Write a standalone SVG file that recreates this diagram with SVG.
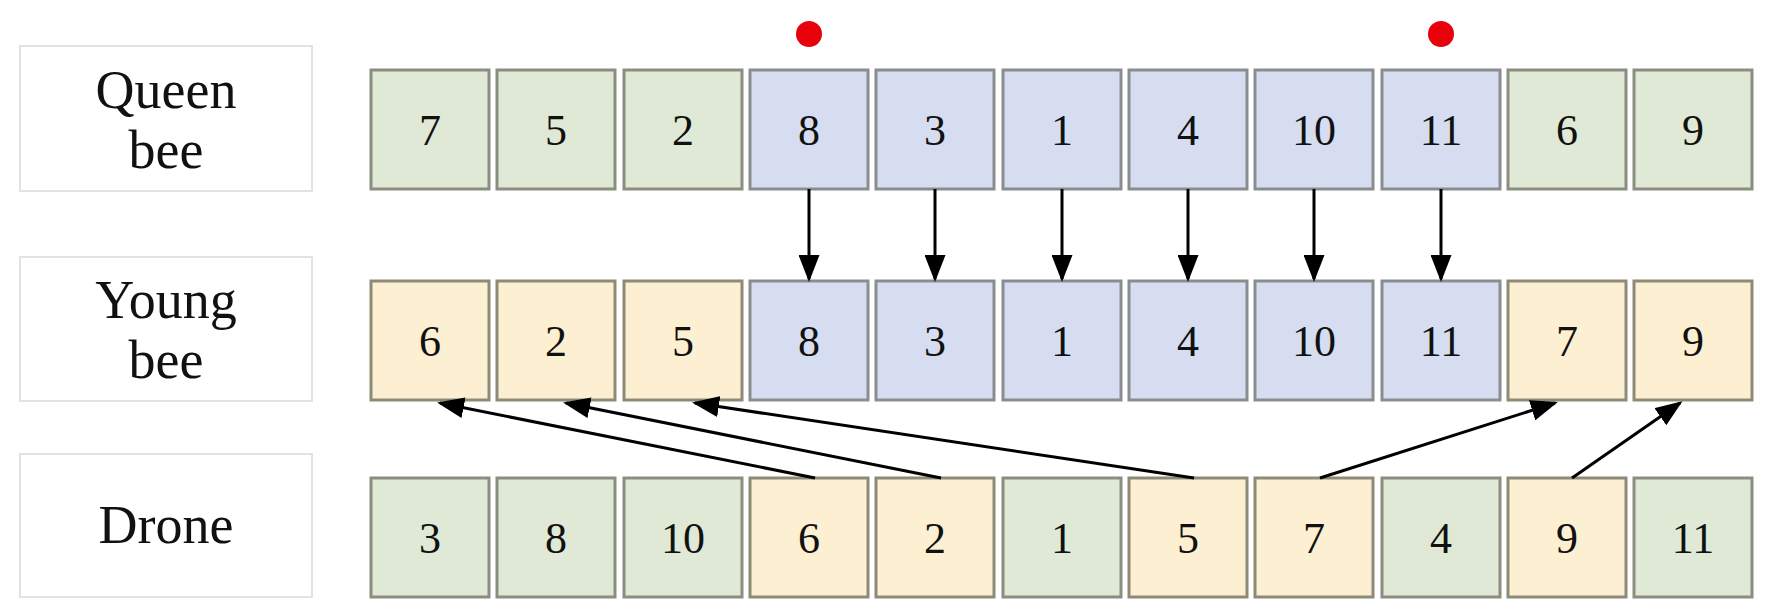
<svg xmlns="http://www.w3.org/2000/svg" width="1770" height="611" viewBox="0 0 1770 611">
<style>
.lab{fill:#fff;stroke:#e2e2e2;stroke-width:2}
.g{fill:#dfe9d5;stroke:#8a8d80;stroke-width:3}
.b{fill:#d6ddf0;stroke:#8a8d90;stroke-width:3}
.y{fill:#fdefd1;stroke:#8e8a78;stroke-width:3}
text{font-family:"Liberation Serif",serif;fill:#111;text-anchor:middle}
.n{font-size:44px}
.t{font-size:54px}
.c line{stroke:#000;stroke-width:3;marker-end:url(#ah)}
</style>
<defs><marker id="ah" markerWidth="9" markerHeight="7" refX="8" refY="3.5" orient="auto" markerUnits="strokeWidth"><path d="M0,0L9,3.5L0,7z" fill="#000"/></marker></defs>
<rect width="1770" height="611" fill="#fff"/>
<g id="label-queen"><rect class="lab" x="20" y="46" width="292" height="145"/><text class="t" x="166" y="108">Queen</text><text class="t" x="166" y="168">bee</text></g>
<g id="label-young"><rect class="lab" x="20" y="257" width="292" height="144"/><text class="t" x="166" y="318">Young</text><text class="t" x="166" y="378">bee</text></g>
<g id="label-drone"><rect class="lab" x="20" y="454" width="292" height="143"/><text class="t" x="166" y="543">Drone</text></g>
<g id="dots"><circle cx="809" cy="34" r="13" fill="#e8000b"/><circle cx="1441" cy="34" r="13" fill="#e8000b"/></g>
<g id="queen-row">
<g id="q0"><rect class="g" x="371" y="70" width="118" height="119"/><text class="n" x="430" y="145">7</text></g>
<g id="q1"><rect class="g" x="497" y="70" width="118" height="119"/><text class="n" x="556" y="145">5</text></g>
<g id="q2"><rect class="g" x="624" y="70" width="118" height="119"/><text class="n" x="683" y="145">2</text></g>
<g id="q3"><rect class="b" x="750" y="70" width="118" height="119"/><text class="n" x="809" y="145">8</text></g>
<g id="q4"><rect class="b" x="876" y="70" width="118" height="119"/><text class="n" x="935" y="145">3</text></g>
<g id="q5"><rect class="b" x="1003" y="70" width="118" height="119"/><text class="n" x="1062" y="145">1</text></g>
<g id="q6"><rect class="b" x="1129" y="70" width="118" height="119"/><text class="n" x="1188" y="145">4</text></g>
<g id="q7"><rect class="b" x="1255" y="70" width="118" height="119"/><text class="n" x="1314" y="145">10</text></g>
<g id="q8"><rect class="b" x="1382" y="70" width="118" height="119"/><text class="n" x="1441" y="145">11</text></g>
<g id="q9"><rect class="g" x="1508" y="70" width="118" height="119"/><text class="n" x="1567" y="145">6</text></g>
<g id="q10"><rect class="g" x="1634" y="70" width="118" height="119"/><text class="n" x="1693" y="145">9</text></g>
</g>
<g id="young-row">
<g id="y0"><rect class="y" x="371" y="281" width="118" height="119"/><text class="n" x="430" y="356">6</text></g>
<g id="y1"><rect class="y" x="497" y="281" width="118" height="119"/><text class="n" x="556" y="356">2</text></g>
<g id="y2"><rect class="y" x="624" y="281" width="118" height="119"/><text class="n" x="683" y="356">5</text></g>
<g id="y3"><rect class="b" x="750" y="281" width="118" height="119"/><text class="n" x="809" y="356">8</text></g>
<g id="y4"><rect class="b" x="876" y="281" width="118" height="119"/><text class="n" x="935" y="356">3</text></g>
<g id="y5"><rect class="b" x="1003" y="281" width="118" height="119"/><text class="n" x="1062" y="356">1</text></g>
<g id="y6"><rect class="b" x="1129" y="281" width="118" height="119"/><text class="n" x="1188" y="356">4</text></g>
<g id="y7"><rect class="b" x="1255" y="281" width="118" height="119"/><text class="n" x="1314" y="356">10</text></g>
<g id="y8"><rect class="b" x="1382" y="281" width="118" height="119"/><text class="n" x="1441" y="356">11</text></g>
<g id="y9"><rect class="y" x="1508" y="281" width="118" height="119"/><text class="n" x="1567" y="356">7</text></g>
<g id="y10"><rect class="y" x="1634" y="281" width="118" height="119"/><text class="n" x="1693" y="356">9</text></g>
</g>
<g id="drone-row">
<g id="d0"><rect class="g" x="371" y="478" width="118" height="119"/><text class="n" x="430" y="553">3</text></g>
<g id="d1"><rect class="g" x="497" y="478" width="118" height="119"/><text class="n" x="556" y="553">8</text></g>
<g id="d2"><rect class="g" x="624" y="478" width="118" height="119"/><text class="n" x="683" y="553">10</text></g>
<g id="d3"><rect class="y" x="750" y="478" width="118" height="119"/><text class="n" x="809" y="553">6</text></g>
<g id="d4"><rect class="y" x="876" y="478" width="118" height="119"/><text class="n" x="935" y="553">2</text></g>
<g id="d5"><rect class="g" x="1003" y="478" width="118" height="119"/><text class="n" x="1062" y="553">1</text></g>
<g id="d6"><rect class="y" x="1129" y="478" width="118" height="119"/><text class="n" x="1188" y="553">5</text></g>
<g id="d7"><rect class="y" x="1255" y="478" width="118" height="119"/><text class="n" x="1314" y="553">7</text></g>
<g id="d8"><rect class="g" x="1382" y="478" width="118" height="119"/><text class="n" x="1441" y="553">4</text></g>
<g id="d9"><rect class="y" x="1508" y="478" width="118" height="119"/><text class="n" x="1567" y="553">9</text></g>
<g id="d10"><rect class="g" x="1634" y="478" width="118" height="119"/><text class="n" x="1693" y="553">11</text></g>
</g>
<g id="connectors" class="c">
<line x1="809" y1="189" x2="809" y2="279"/>
<line x1="935" y1="189" x2="935" y2="279"/>
<line x1="1062" y1="189" x2="1062" y2="279"/>
<line x1="1188" y1="189" x2="1188" y2="279"/>
<line x1="1314" y1="189" x2="1314" y2="279"/>
<line x1="1441" y1="189" x2="1441" y2="279"/>
<line x1="815" y1="478" x2="440" y2="403"/>
<line x1="941" y1="478" x2="566" y2="403"/>
<line x1="1194" y1="478" x2="695" y2="403"/>
<line x1="1320" y1="478" x2="1555" y2="403"/>
<line x1="1572" y1="478" x2="1680" y2="403"/>
</g>
</svg>
